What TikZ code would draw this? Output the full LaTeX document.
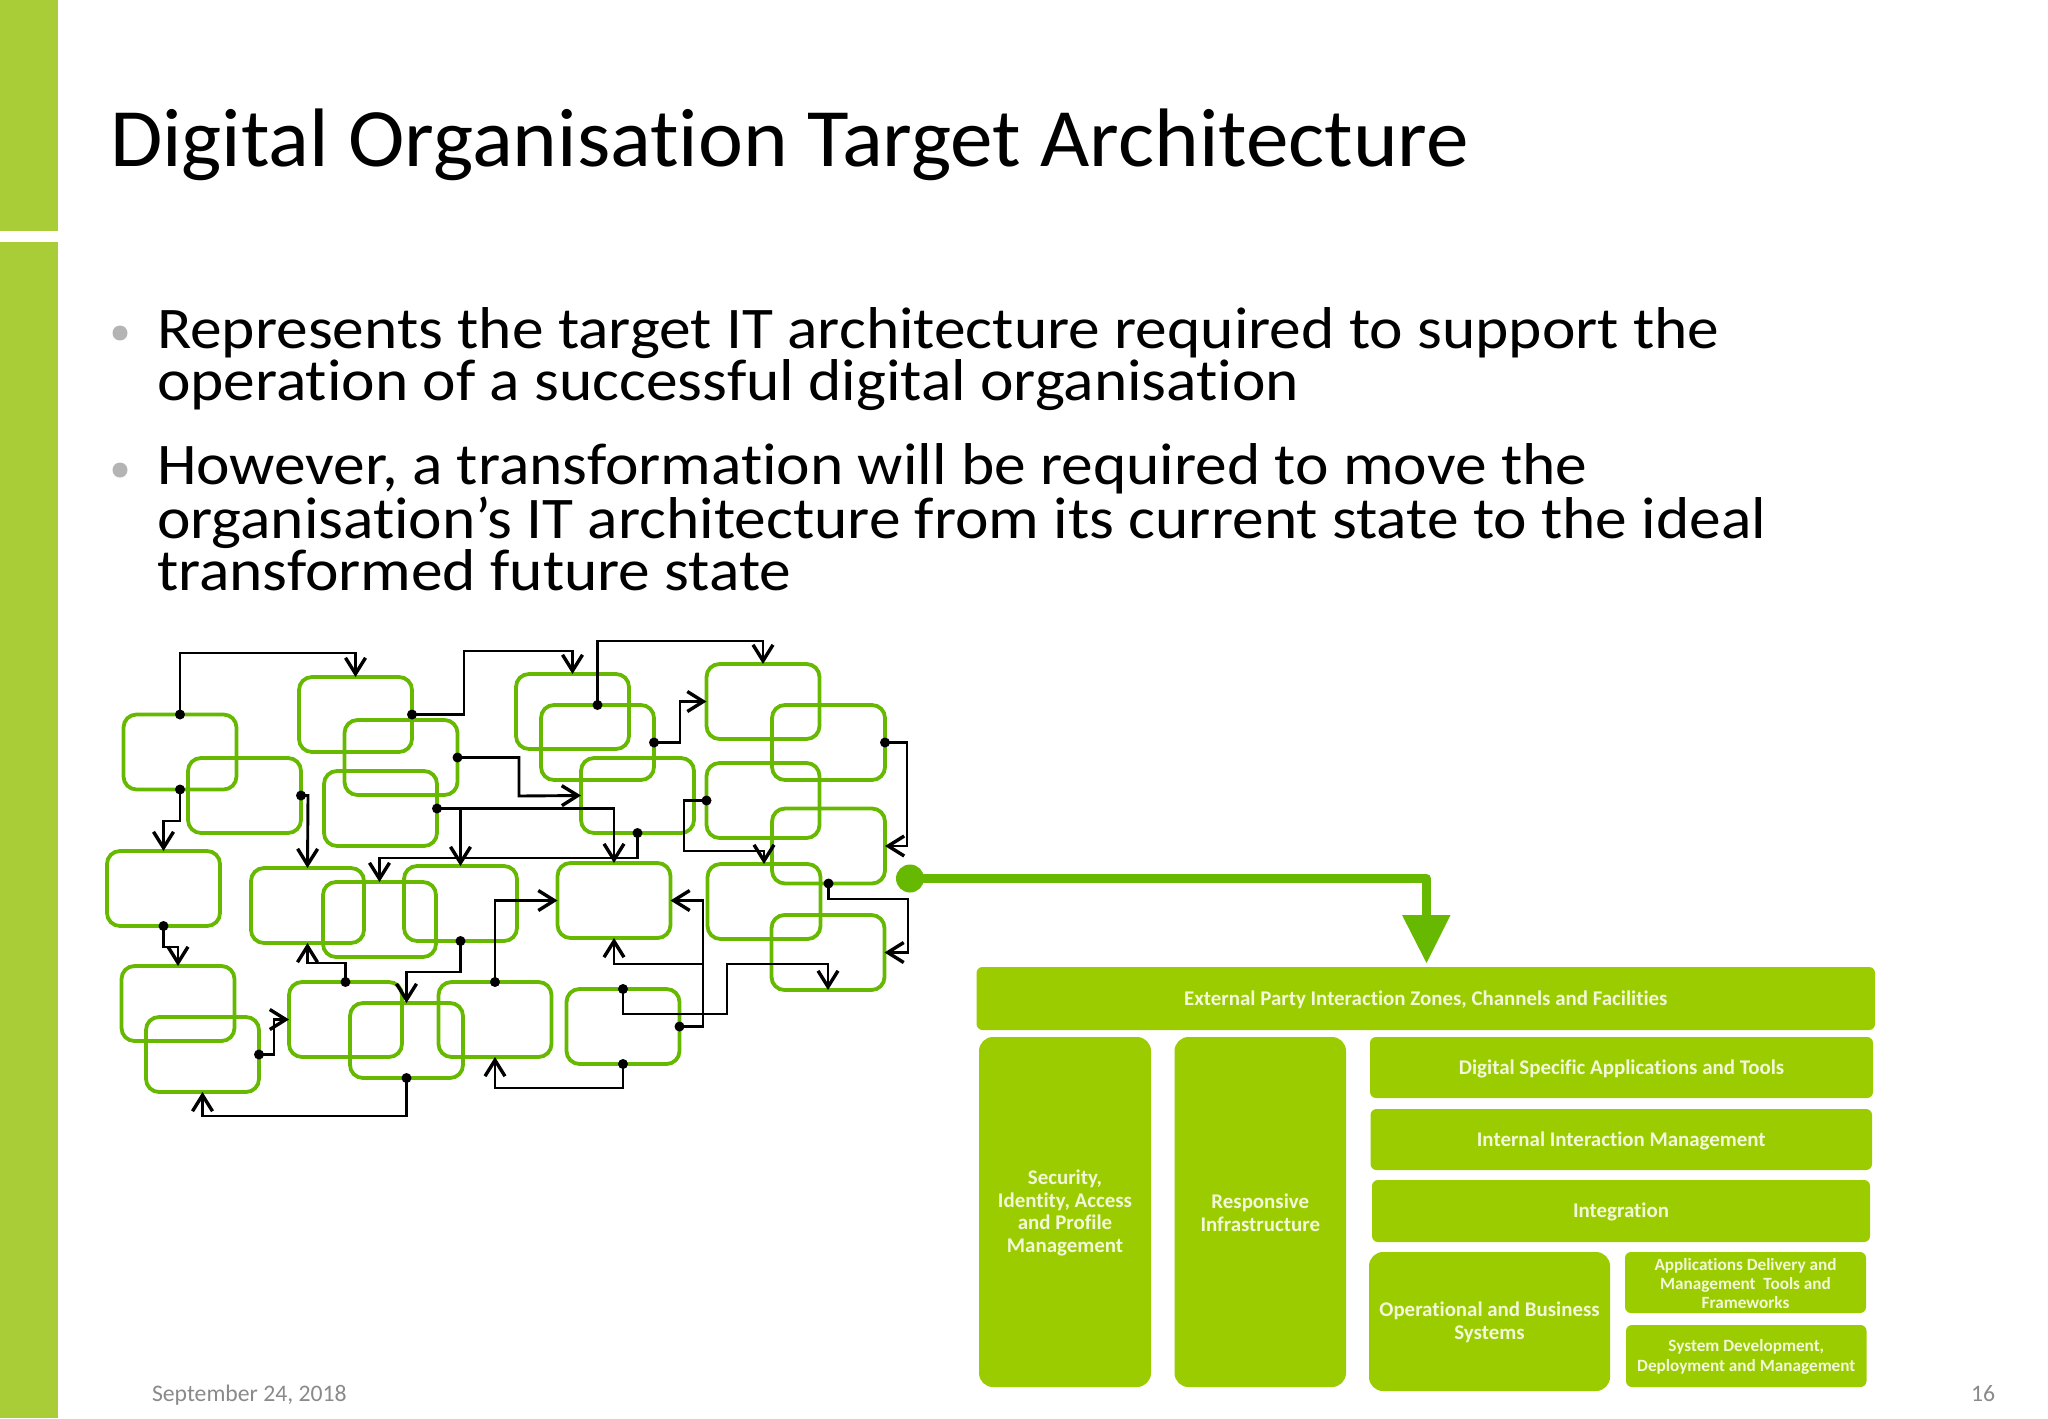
\documentclass[tikz,border=0pt]{standalone}
\usepackage{fontspec}
\setmainfont{Carlito}[Ligatures=CommonOff]
\newfontfamily\titlefont{Carlito}[Ligatures=CommonOff,FakeStretch=1.026]
\newfontfamily\bodyfont{Carlito}[Ligatures=CommonOff,FakeStretch=1.075]
\usetikzlibrary{arrows.meta}
\definecolor{strip}{HTML}{A9CD37}
\definecolor{lime}{HTML}{9BCC00}
\definecolor{leaf}{HTML}{66B900}
\definecolor{boxtext}{HTML}{F3F8DA}
\definecolor{foot}{HTML}{8A8A8A}
\definecolor{bull}{HTML}{B4B4B4}
\tikzset{
  x=0.5pt,y=-0.5pt,
  gbox/.style={draw=leaf,line width=1.9pt,rounded corners=6.5pt,minimum width=56.5pt,minimum height=37.5pt,inner sep=0pt,outer sep=0pt},
  conn/.style={draw=black,line width=1.45pt,-{Straight Barb[length=8pt,width=10pt,line width=1.7pt]}},
  dot/.style={circle,fill=black,inner sep=0pt,minimum size=5pt,outer sep=0pt},
  stackbox/.style={fill=lime,inner sep=0pt,outer sep=0pt},
  boxlabel/.style={text=boxtext,font=\bfseries\fontsize{10.45}{11.4}\selectfont,align=center,inner sep=0pt,outer sep=0pt},
  smalllabel/.style={boxlabel,font=\bfseries\fontsize{8.6}{9.6}\selectfont},
  headline/.style={anchor=base west,inner sep=0pt,outer sep=0pt,text=black},
  bodyline/.style={headline,font=\bodyfont\fontsize{29.5}{30}\selectfont},
  footline/.style={anchor=base west,inner sep=0pt,outer sep=0pt,text=foot,font=\fontsize{11.85}{13}\selectfont},
  bullet/.style={circle,fill=bull,inner sep=0pt,minimum size=7.5pt}
}
% #1-#4 corners, #5 corner radius, #6 name, #7 label style, #8 text
\newcommand{\stack}[8]{%
  \node[stackbox,rounded corners=#5,minimum width=(#3-#1)*0.5pt,minimum height=(#4-#2)*0.5pt] (#6) at ({(#1+#3)/2},{(#2+#4)/2}) {};
  \node[#7] (#6-text) at ([yshift=-0.5pt]#6.center) {#8};}
\begin{document}
\begin{tikzpicture}
\useasboundingbox (0,0) rectangle (2048,1418);
\fill[white] (0,0) rectangle (2048,1418);
% side strips
\fill[strip] (0,0) rectangle (58,231);
\fill[strip] (0,242) rectangle (58,1418);
% title and body
\node[headline,font=\titlefont\fontsize{41.5}{42}\selectfont] (title) at (110,166) {Digital Organisation Target Architecture};
\node[bullet] (b1) at (120,333) {};
\node[bullet] (b2) at (120,470) {};
\node[bodyline] (l1) at (157,348) {Represents the target IT architecture required to support the};
\node[bodyline] (l2) at (157,400) {operation of a successful digital organisation};
\node[bodyline] (l3) at (157,484) {However, a transformation will be required to move the};
\node[bodyline] (l4) at (157,538) {organisation’s IT architecture from its current state to the ideal};
\node[bodyline] (l5) at (157,590) {transformed future state};
\node[footline] (date) at (152,1401) {September 24, 2018};
\node[footline] (page) at (1971,1401) {16};
% tangled boxes
\node[gbox] (A) at (180,752) {};
\node[gbox] (B) at (244.5,795.5) {};
\node[gbox] (C) at (355.5,714.5) {};
\node[gbox] (D) at (401,757.5) {};
\node[gbox] (E) at (380.5,808.5) {};
\node[gbox] (F) at (163.5,888.5) {};
\node[gbox] (G) at (307.5,905.5) {};
\node[gbox] (H) at (379.5,919.5) {};
\node[gbox] (I) at (460.5,903.5) {};
\node[gbox] (J) at (178,1003.5) {};
\node[gbox] (K) at (202.5,1054.5) {};
\node[gbox] (L) at (345.5,1019.5) {};
\node[gbox] (M) at (406.5,1040.5) {};
\node[gbox] (N) at (495,1019.5) {};
\node[gbox] (O) at (614,900.5) {};
\node[gbox] (P) at (623,1026.5) {};
\node[gbox] (Q) at (572.5,711.5) {};
\node[gbox] (R) at (597.5,742.5) {};
\node[gbox] (S) at (637.5,795.5) {};
\node[gbox] (T) at (763,701.5) {};
\node[gbox] (U) at (828.5,742.5) {};
\node[gbox] (V) at (763,800.5) {};
\node[gbox] (W) at (828.5,846) {};
\node[gbox] (X) at (764,901.5) {};
\node[gbox] (Y) at (828,952.5) {};
% connectors
\draw[conn] (A.north) -- (A.north |- 0,653) -- (C.north |- 0,653) -- (C.north);
\draw[conn] (C.east) -- (464,714.5) -- (464,651) -- (Q.north |- 0,651) -- (Q.north);
\draw[conn] (D.east) -- (519,757.5) -- (519,796) -- (S.west);
\draw[conn] (E.east) -- (O.north |- E.east) -- (O.north);
\draw[conn] (E.east) -- (I.north |- E.east) -- (I.north);
\draw[conn] (S.south) -- (S.south |- 0,858) -- (H.north |- 0,858) -- (H.north);
\draw[conn] (A.south) -- (A.south |- 0,821) -- (F.north |- 0,821) -- (F.north);
\draw[conn] (B.east) -- (308,795.5) -- (G.north);
\draw[conn] (F.south) -- (F.south |- 0,947) -- (J.north |- 0,947) -- (J.north);
\draw[conn] (K.east) -- (274,1054.5) -- (274,1019.5) -- (L.west);
\draw[conn] (L.north) -- (L.north |- 0,963) -- (G.south |- 0,963) -- (G.south);
\draw[conn] (M.south) -- (M.south |- 0,1116) -- (K.south |- 0,1116) -- (K.south);
\draw[conn] (I.south) -- (I.south |- 0,972) -- (M.north |- 0,972) -- (M.north);
\draw[conn] (N.north) -- (N.north |- O.west) -- (O.west);
\draw[conn] (P.south) -- (P.south |- 0,1088) -- (N.south |- 0,1088) -- (N.south);
\draw[conn] (P.east) -- (703,1026.5) -- (703,900.5) -- (O.east);
\draw[conn] (703,964) -- (O.south |- 0,964) -- (O.south);
\draw[conn] (P.north) -- (P.north |- 0,1014) -- (727,1014) -- (727,964) -- (Y.south |- 0,964) -- (Y.south);
\draw[conn] (R.north) -- (R.north |- 0,641) -- (T.north |- 0,641) -- (T.north);
\draw[conn] (R.east) -- (680,742.5) -- (680,701.5) -- (T.west);
\draw[conn] (U.east) -- (907,742.5) -- (907,846) -- (W.east);
\draw[conn] (V.west) -- (684,800.5) -- (684,851) -- (X.north |- 0,851) -- (X.north);
\draw[conn] (W.south) -- (W.south |- 0,899) -- (908,899) -- (908,952.5) -- (Y.east);
% junction dots
\foreach \a in {A.north,A.south,B.east,C.east,D.east,E.east,F.south,I.south,K.east,L.north,M.south,N.north,P.north,P.south,P.east,R.north,R.east,S.south,U.east,V.west,W.south}
  \node[dot] at (\a) {};
% stack
\stack{976.5}{967}{1875}{1030}{3pt}{ext}{boxlabel}{External Party Interaction Zones, Channels and Facilities}
\stack{979}{1037}{1151}{1387}{7pt}{sec}{boxlabel}{Security,\\Identity, Access\\and Profile\\Management}
\stack{1174.5}{1037}{1346}{1387}{7pt}{res}{boxlabel}{Responsive\\Infrastructure}
\stack{1370}{1037}{1873}{1098}{3pt}{dig}{boxlabel}{Digital Specific Applications and Tools}
\stack{1370.5}{1109}{1872}{1170}{3pt}{int}{boxlabel}{Internal Interaction Management}
\stack{1372}{1180}{1870}{1242}{3pt}{itg}{boxlabel}{Integration}
\stack{1369}{1252}{1610}{1391}{7pt}{ops}{boxlabel}{Operational and Business\\Systems}
\stack{1625}{1252}{1866}{1313}{3pt}{app}{smalllabel}{Applications Delivery and\\Management\ \ Tools and\\Frameworks}
\stack{1626}{1325}{1866.5}{1387}{3pt}{sys}{smalllabel}{System Development,\\Deployment and Management}
% big green link
\node[circle,fill=leaf,inner sep=0pt,minimum size=14pt,outer sep=0pt] (src) at (910,878.5) {};
\coordinate (elbow) at (1426.5,878.5);
\coordinate (tip) at (1426.5,963);
\draw[leaf,line width=4.5pt,line join=round] (src.center) -- (elbow) -- (1426.5,920);
\fill[leaf] (1402,915) -- (1450.5,915) -- (tip) -- cycle;
\end{tikzpicture}
\end{document}
